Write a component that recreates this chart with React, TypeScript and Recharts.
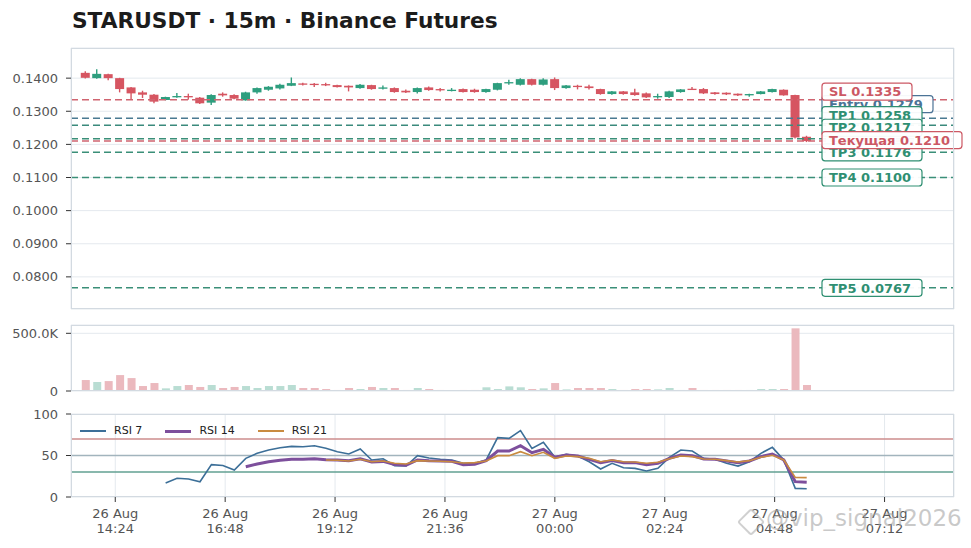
import {
  ComposedChart,
  Bar,
  Line,
  XAxis,
  YAxis,
  CartesianGrid,
  ReferenceLine,
  Cell,
} from 'recharts';

// 15m candles, 26 Aug 13:45 -> 27 Aug 05:30
const candleTimes = [
  '13:45', '14:00', '14:15', '14:30', '14:45', '15:00', '15:15', '15:30', '15:45', '16:00',
  '16:15', '16:30', '16:45', '17:00', '17:15', '17:30', '17:45', '18:00', '18:15', '18:30',
  '18:45', '19:00', '19:15', '19:30', '19:45', '20:00', '20:15', '20:30', '20:45', '21:00',
  '21:15', '21:30', '21:45', '22:00', '22:15', '22:30', '22:45', '23:00', '23:15', '23:30',
  '23:45', '00:00', '00:15', '00:30', '00:45', '01:00', '01:15', '01:30', '01:45', '02:00',
  '02:15', '02:30', '02:45', '03:00', '03:15', '03:30', '03:45', '04:00', '04:15', '04:30',
  '04:45', '05:00', '05:15', '05:30',
];

const opens = [
  0.1416, 0.1400, 0.1412, 0.1400, 0.1372, 0.1357, 0.1350, 0.1334, 0.1343, 0.1346,
  0.1341, 0.1326, 0.1353, 0.1349, 0.1333, 0.1357, 0.1365, 0.1369, 0.1377, 0.1384,
  0.1383, 0.1382, 0.1379, 0.1377, 0.1370, 0.1379, 0.1368, 0.1370, 0.1362, 0.1358,
  0.1372, 0.1367, 0.1362, 0.1367, 0.1365, 0.1358, 0.1365, 0.1385, 0.1380, 0.1397,
  0.1380, 0.1397, 0.1370, 0.1377, 0.1375, 0.1367, 0.1352, 0.1360, 0.1357, 0.1354,
  0.1342, 0.1343, 0.1358, 0.1368, 0.1367, 0.1357, 0.1356, 0.1353, 0.1348, 0.1352,
  0.1358, 0.1365, 0.1349, 0.1223,
];
const highs = [
  0.1421, 0.1427, 0.1413, 0.1401, 0.1373, 0.1362, 0.1352, 0.1344, 0.1355, 0.1353,
  0.1343, 0.1351, 0.1357, 0.1351, 0.1359, 0.1372, 0.1376, 0.1383, 0.1402, 0.1386,
  0.1385, 0.1386, 0.1380, 0.1378, 0.1382, 0.1380, 0.1378, 0.1372, 0.1366, 0.1372,
  0.1375, 0.1370, 0.1370, 0.1369, 0.1368, 0.1368, 0.1386, 0.1395, 0.1400, 0.1398,
  0.1400, 0.1402, 0.1379, 0.1380, 0.1380, 0.1368, 0.1361, 0.1361, 0.1368, 0.1357,
  0.1353, 0.1362, 0.1367, 0.1373, 0.1370, 0.1358, 0.1357, 0.1354, 0.1353, 0.1361,
  0.1368, 0.1366, 0.1350, 0.1226,
];
const lows = [
  0.1399, 0.1398, 0.1394, 0.1357, 0.1336, 0.1340, 0.1324, 0.1333, 0.1341, 0.1335,
  0.1322, 0.1319, 0.1344, 0.1336, 0.1332, 0.1353, 0.1362, 0.1366, 0.1376, 0.1378,
  0.1373, 0.1376, 0.1372, 0.1360, 0.1368, 0.1365, 0.1366, 0.1356, 0.1355, 0.1354,
  0.1362, 0.1360, 0.1360, 0.1357, 0.1356, 0.1356, 0.1363, 0.1380, 0.1378, 0.1378,
  0.1378, 0.1364, 0.1368, 0.1366, 0.1366, 0.1350, 0.1350, 0.1350, 0.1347, 0.1340,
  0.1338, 0.1340, 0.1356, 0.1364, 0.1352, 0.1350, 0.1349, 0.1346, 0.1344, 0.1351,
  0.1357, 0.1347, 0.1218, 0.1207,
];
const closes = [
  0.1401, 0.1413, 0.1400, 0.1367, 0.1354, 0.1350, 0.1329, 0.1343, 0.1346, 0.1342,
  0.1324, 0.1349, 0.1348, 0.1338, 0.1357, 0.1370, 0.1374, 0.1380, 0.1385, 0.1382,
  0.1381, 0.1380, 0.1373, 0.1372, 0.1380, 0.1367, 0.1372, 0.1358, 0.1357, 0.1370,
  0.1364, 0.1364, 0.1365, 0.1358, 0.1358, 0.1367, 0.1385, 0.1388, 0.1397, 0.1380,
  0.1396, 0.1370, 0.1378, 0.1373, 0.1370, 0.1352, 0.1360, 0.1352, 0.1349, 0.1342,
  0.1346, 0.1360, 0.1366, 0.1365, 0.1354, 0.1352, 0.1351, 0.1348, 0.1352, 0.1360,
  0.1367, 0.1348, 0.1221, 0.1210,
];
const volumes = [
  95000, 78000, 86000, 138000, 112000, 43000, 69000, 23000, 43000, 52000,
  35000, 52000, 26000, 35000, 43000, 26000, 43000, 43000, 52000, 26000,
  26000, 17000, 9000, 26000, 17000, 35000, 26000, 26000, 9000, 26000,
  17000, 9000, 5000, 9000, 9000, 32000, 17000, 40000, 32000, 17000,
  23000, 69000, 14000, 26000, 26000, 26000, 17000, 9000, 17000, 17000,
  14000, 26000, 9000, 26000, 9000, 9000, 9000, 9000, 9000, 17000,
  17000, 17000, 543000, 52000,
];

const rsi7 = [
  null, null, null, null, null, null, null, 17, 22.5, 21.7,
  18.4, 39, 38, 32.5, 46.6, 52.6, 56.6, 59.4, 61, 60.6,
  61.8, 58.7, 54.6, 51.8, 57.8, 44.6, 46, 37.7, 37.3, 49.8,
  47, 45.4, 44.6, 40.6, 40.6, 44.6, 71.5, 70.7, 79.9, 58.6,
  65.9, 47.8, 51.4, 49.4, 42.5, 33.7, 40.6, 35.3, 34.5, 31.3,
  34.5, 47.8, 56.6, 55.4, 46.6, 45.4, 40.6, 37.3, 42.5, 52.6,
  59.8, 44.6, 10.4, 10,
];
const rsi14 = [
  null, null, null, null, null, null, null, null, null, null,
  null, null, null, null, 36.5, 39.8, 42.5, 44.2, 45.4, 45.4,
  46.2, 45, 44.6, 43.8, 46, 42.2, 42.9, 39, 38.3, 44.6,
  43.8, 43.4, 43, 39, 39.5, 43.8, 55.4, 55.4, 61.8, 53.4,
  57.4, 47.8, 50.6, 49.4, 45.4, 41.4, 43.8, 41.4, 41.4, 39,
  40.6, 46.6, 50.6, 49.8, 45.8, 45.4, 43.4, 41.4, 43.4, 48.6,
  51.8, 44.6, 18.5, 17.7,
];
const rsi21 = [
  null, null, null, null, null, null, null, null, null, null,
  null, null, null, null, null, null, null, null, null, null,
  null, 44.6, 44.2, 43.4, 45.4, 42.5, 43.4, 40.6, 39.8, 43.8,
  43.4, 43, 42.5, 41, 41.4, 43.4, 49.8, 49.8, 54.6, 49.8,
  53.8, 46.6, 49.4, 48.6, 46.6, 42.5, 44.6, 42.5, 42.2, 40.6,
  41.8, 46.2, 49.4, 48.6, 45.8, 45.4, 43.8, 42.2, 43.8, 47.8,
  50.2, 44.6, 23.6, 23.3,
];

const priceTicks = [0.08, 0.09, 0.1, 0.11, 0.12, 0.13, 0.14];
const volumeTicks = [0, 500000];
const rsiTicks = [0, 50, 100];
const timeTickLabels = [
  ['26 Aug', '14:24'], ['26 Aug', '16:48'], ['26 Aug', '19:12'], ['26 Aug', '21:36'],
  ['27 Aug', '00:00'], ['27 Aug', '02:24'], ['27 Aug', '04:48'], ['27 Aug', '07:12'],
];

// trade levels, in the order their tags are stacked
const levelNames = ['Entry', 'TP1', 'TP2', 'TP3', 'TP4', 'TP5', 'SL', 'Текущая'];
const levelValues = [0.1279, 0.1258, 0.1217, 0.1176, 0.11, 0.0767, 0.1335, 0.121];

const rsiLevels = [70, 50, 30];

const RED = '#d65561';
const GREEN = '#2e9e7e';
const FONT = '"DejaVu Sans", sans-serif';
const W = 971;
const PLOT_LEFT = 71;
const PLOT_RIGHT = 954;
const X_DOMAIN = [806, 1963];

const levelStyle: Record<string, { color: string; dy: number; w: number }> = {
  SL: { color: '#cc5864', dy: -8, w: 90 },
  Entry: { color: '#4c7396', dy: -14, w: 111 },
  TP1: { color: '#2f8f72', dy: -10, w: 100 },
  TP2: { color: '#2f8f72', dy: -11, w: 100 },
  TP3: { color: '#2f8f72', dy: 0, w: 100 },
  TP4: { color: '#2f8f72', dy: 0, w: 100 },
  TP5: { color: '#2f8f72', dy: 0, w: 100 },
  'Текущая': { color: '#cc5864', dy: -1, w: 140 },
};
const levelLineColor: Record<string, string> = {
  SL: '#d06470',
  Entry: '#4a7a92',
  TP1: '#3a8a7c',
  TP2: '#3a8f78',
  TP3: '#3a8f78',
  TP4: '#3a8f78',
  TP5: '#3a8f78',
  'Текущая': '#d06470',
};
const rsiLevelColor = ['#cc8c8c', '#a2b4bd', '#62a092'];
const rsiStyle = [
  { key: 'rsi7', name: 'RSI 7', color: '#3c6f98', width: 1.6 },
  { key: 'rsi14', name: 'RSI 14', color: '#7d4f9c', width: 3 },
  { key: 'rsi21', name: 'RSI 21', color: '#c98b40', width: 1.6 },
];

function toMinutes(hm: string) {
  const [h, m] = hm.split(':').map(Number);
  return h * 60 + m;
}

let dayShift = 0;
const data = candleTimes.map((hm, i) => {
  let t = toMinutes(hm) + dayShift;
  if (i > 0 && t < toMinutes(candleTimes[i - 1]) + dayShift - 1) {
    dayShift += 1440;
    t += 1440;
  }
  return {
    t,
    range: [lows[i], highs[i]],
    open: opens[i],
    high: highs[i],
    low: lows[i],
    close: closes[i],
    up: closes[i] >= opens[i],
    vol: volumes[i],
    rsi7: rsi7[i],
    rsi14: rsi14[i],
    rsi21: rsi21[i],
  };
});

const tickValues = timeTickLabels.map(
  ([d, hm]) => (parseInt(d, 10) - 26) * 1440 + toMinutes(hm)
);

const axisTick = { fill: '#555', fontSize: 13, fontFamily: FONT };
const margin = { top: 10, right: W - PLOT_RIGHT, bottom: 0, left: 11 };

function Candle(props: any) {
  const { x, y, width, height, payload } = props;
  if (x == null || y == null) return null;
  const cx = x + width / 2;
  const top = Math.min(y, y + height);
  const h = Math.abs(height);
  const span = payload.high - payload.low;
  const k = span > 0 ? h / span : 0;
  const bTop = top + (payload.high - Math.max(payload.open, payload.close)) * k;
  const bBot = top + (payload.high - Math.min(payload.open, payload.close)) * k;
  const color = payload.up ? GREEN : RED;
  return (
    <g>
      <line x1={cx} x2={cx} y1={top} y2={top + h} stroke={color} strokeWidth={1.4} />
      <rect x={cx - 4.5} y={bTop} width={9} height={Math.max(bBot - bTop, 1.3)} fill={color} />
    </g>
  );
}

const levelLabel = (name: string, value: number) => (props: any) => {
  const vb = props.viewBox || {};
  const st = levelStyle[name];
  const bx = vb.x + vb.width * 0.8505;
  const cy = vb.y + st.dy;
  return (
    <g>
      <rect
        x={bx}
        y={cy - 8.5}
        width={st.w}
        height={17}
        rx={3}
        fill="#fff"
        fillOpacity={0.95}
        stroke={st.color}
        strokeWidth={1.2}
      />
      <text
        x={bx + 7}
        y={cy + 4.7}
        fill={st.color}
        fontSize={13}
        fontWeight="bold"
        fontFamily={FONT}
      >
        {`${name} ${value.toFixed(4)}`}
      </text>
    </g>
  );
};

function TimeTick(props: any) {
  const { x, y, payload } = props;
  const idx = tickValues.indexOf(payload.value);
  const lbl = timeTickLabels[idx] || ['', ''];
  return (
    <text x={x} y={y} textAnchor="middle" fill="#555" fontSize={13} fontFamily={FONT}>
      <tspan x={x} dy={14}>{lbl[0]}</tspan>
      <tspan x={x} dy={15}>{lbl[1]}</tspan>
    </text>
  );
}

function Frame({ top, height }: { top: number; height: number }) {
  return (
    <div
      style={{
        position: 'absolute',
        left: PLOT_LEFT,
        top,
        width: PLOT_RIGHT - PLOT_LEFT,
        height,
        border: '1px solid #d3dae1',
        boxSizing: 'border-box',
        pointerEvents: 'none',
      }}
    />
  );
}

export default function App() {
  const mainTop = 48;
  const mainH = 261;
  const volTop = 325;
  const volH = 66;
  const rsiTop = 414;
  const rsiH = 83;

  return (
    <div
      style={{
        position: 'relative',
        width: W,
        height: 548,
        background: '#fff',
        fontFamily: FONT,
        overflow: 'hidden',
      }}
    >
      <style>{'body{margin:0}'}</style>
      <div
        style={{
          position: 'absolute',
          left: 72,
          top: 10,
          fontSize: 21.7,
          lineHeight: '22px',
          fontWeight: 'bold',
          color: '#1c1c1c',
          whiteSpace: 'nowrap',
        }}
      >
        STARUSDT · 15m · Binance Futures
      </div>

      {/* price panel */}
      <div style={{ position: 'absolute', left: 0, top: mainTop - 10 }}>
        <ComposedChart width={W} height={mainH + 20} data={data} margin={margin}>
          <CartesianGrid stroke="#e4e9ee" strokeWidth={1} />
          <XAxis
            type="number"
            dataKey="t"
            domain={X_DOMAIN}
            ticks={tickValues}
            allowDataOverflow
            height={10}
            tick={false}
            tickSize={5}
            tickLine={{ stroke: '#333' }}
            axisLine={false}
          />
          <YAxis
            domain={[0.0703, 0.1491]}
            ticks={priceTicks}
            allowDataOverflow
            width={60}
            tick={axisTick}
            tickFormatter={(v: number) => v.toFixed(4)}
            tickSize={5}
            tickMargin={8}
            tickLine={{ stroke: '#333' }}
            axisLine={false}
          />
          {levelNames.map((n, i) => (
            <ReferenceLine
              key={'l' + n}
              y={levelValues[i]}
              stroke={levelLineColor[n]}
              strokeWidth={1.5}
              strokeDasharray="7 4"
            />
          ))}
          <Bar
            dataKey="range"
            barSize={9}
            shape={(p: any) => <Candle {...p} />}
            isAnimationActive={false}
          />
          {levelNames.map((n, i) => (
            <ReferenceLine
              key={'t' + n}
              y={levelValues[i]}
              stroke="none"
              label={levelLabel(n, levelValues[i])}
            />
          ))}
        </ComposedChart>
      </div>
      <Frame top={mainTop} height={mainH} />

      {/* volume panel */}
      <div style={{ position: 'absolute', left: 0, top: volTop - 10 }}>
        <ComposedChart width={W} height={volH + 20} data={data} margin={margin}>
          <CartesianGrid stroke="#e4e9ee" strokeWidth={1} />
          <XAxis
            type="number"
            dataKey="t"
            domain={X_DOMAIN}
            ticks={tickValues}
            allowDataOverflow
            height={10}
            tick={false}
            tickSize={5}
            tickLine={{ stroke: '#333' }}
            axisLine={false}
          />
          <YAxis
            domain={[0, 572000]}
            ticks={volumeTicks}
            allowDataOverflow
            width={60}
            tick={axisTick}
            tickFormatter={(v: number) => (v === 0 ? '0' : (v / 1000).toFixed(1) + 'K')}
            tickSize={5}
            tickMargin={8}
            tickLine={{ stroke: '#333' }}
            axisLine={false}
          />
          <Bar dataKey="vol" barSize={8} isAnimationActive={false}>
            {data.map((d, i) => (
              <Cell key={i} fill={d.up ? '#b9ddd3' : '#ebb9be'} />
            ))}
          </Bar>
        </ComposedChart>
      </div>
      <Frame top={volTop} height={volH} />

      {/* RSI panel */}
      <div style={{ position: 'absolute', left: 0, top: rsiTop - 10 }}>
        <ComposedChart width={W} height={rsiH + 50} data={data} margin={margin}>
          <CartesianGrid stroke="#e4e9ee" strokeWidth={1} />
          <XAxis
            type="number"
            dataKey="t"
            domain={X_DOMAIN}
            ticks={tickValues}
            allowDataOverflow
            height={40}
            tick={<TimeTick />}
            tickSize={5}
            tickMargin={2}
            tickLine={{ stroke: '#333' }}
            axisLine={false}
          />
          <YAxis
            domain={[0, 100]}
            ticks={rsiTicks}
            allowDataOverflow
            width={60}
            tick={axisTick}
            tickSize={5}
            tickMargin={8}
            tickLine={{ stroke: '#333' }}
            axisLine={false}
          />
          {rsiLevels.map((v, i) => (
            <ReferenceLine key={v} y={v} stroke={rsiLevelColor[i]} strokeWidth={1.5} />
          ))}
          {rsiStyle.map((s) => (
            <Line
              key={s.key}
              dataKey={s.key}
              name={s.name}
              stroke={s.color}
              strokeWidth={s.width}
              dot={false}
              activeDot={false}
              isAnimationActive={false}
            />
          ))}
        </ComposedChart>
      </div>
      <Frame top={rsiTop} height={rsiH} />

      {/* RSI legend */}
      <div
        style={{
          position: 'absolute',
          left: 80,
          top: 424,
          display: 'flex',
          gap: 23,
          fontSize: 11,
          color: '#222',
          lineHeight: '14px',
        }}
      >
        {rsiStyle.map((s) => (
          <div key={s.key} style={{ display: 'flex', alignItems: 'center', gap: 8 }}>
            <span
              style={{
                display: 'inline-block',
                width: 26,
                height: s.width,
                background: s.color,
              }}
            />
            <span>{s.name}</span>
          </div>
        ))}
      </div>

      {/* watermark */}
      <div
        style={{
          position: 'absolute',
          left: 741,
          top: 512,
          width: 16,
          height: 16,
          border: '2px solid rgba(170,170,170,0.55)',
          borderRadius: 3,
          transform: 'rotate(45deg)',
        }}
      />
      <div
        style={{
          position: 'absolute',
          left: 766,
          top: 504,
          fontSize: 23,
          lineHeight: '28px',
          color: 'rgba(165,165,165,0.6)',
          whiteSpace: 'nowrap',
        }}
      >
        @vip_signal2026
      </div>
    </div>
  );
}
